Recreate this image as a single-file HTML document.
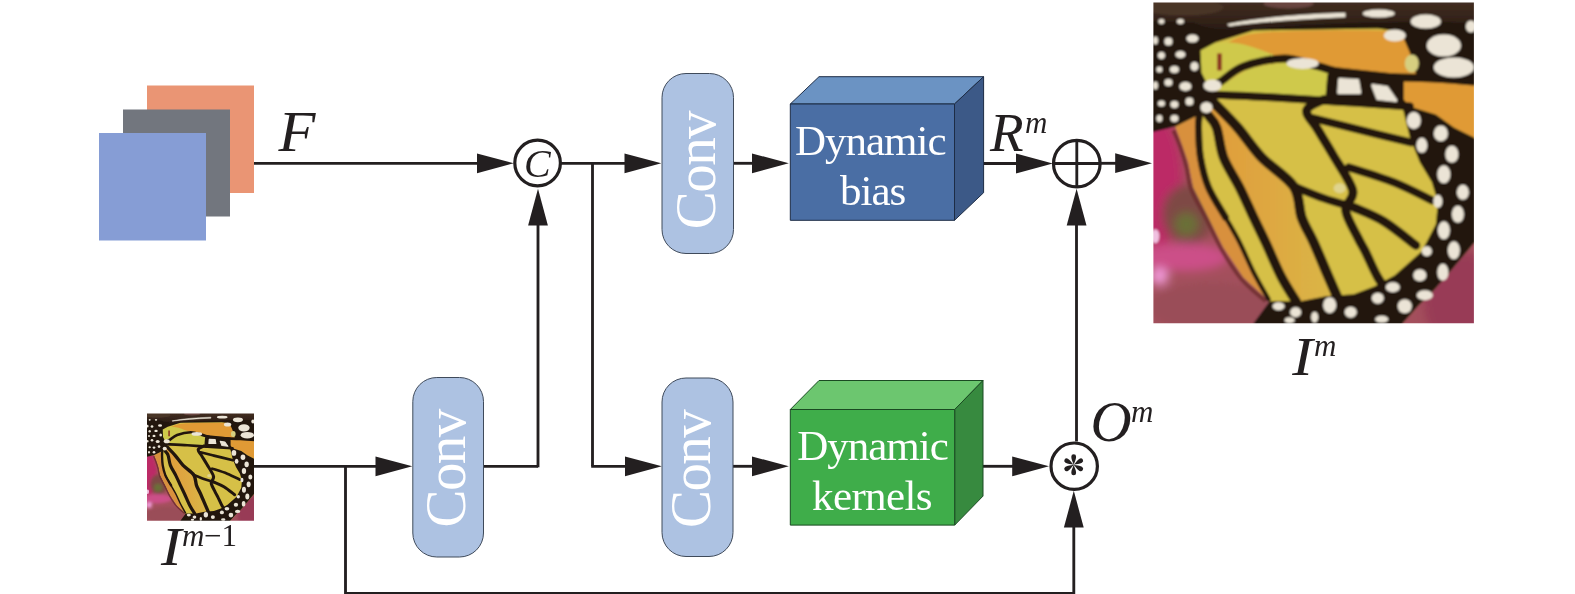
<!DOCTYPE html>
<html><head><meta charset="utf-8">
<style>
html,body{margin:0;padding:0;background:#fff;}
body{width:1575px;height:594px;overflow:hidden;position:relative;}
svg{position:absolute;left:0;top:0;will-change:transform;}
.t{font-family:"Liberation Serif",serif;}
</style></head><body>
<svg width="1575" height="594" viewBox="0 0 1575 594">
<defs>
<filter id="bl" filterUnits="userSpaceOnUse" x="-10" y="-10" width="340" height="341"><feGaussianBlur stdDeviation="1.2"/></filter>
<filter id="bl2" x="0" y="0" width="1" height="1"><feGaussianBlur stdDeviation="1.5"/></filter>
<symbol id="bf" viewBox="0 0 320 321" preserveAspectRatio="none"><g filter="url(#bl)">
<defs><linearGradient id="gbc" x1="0" y1="0" x2="1" y2="0"><stop offset="0" stop-color="#e09c3a"/><stop offset="0.5" stop-color="#dea842"/><stop offset="1" stop-color="#d9b846"/></linearGradient><linearGradient id="gtop" x1="0" y1="0" x2="0" y2="1"><stop offset="0" stop-color="#4a3426"/><stop offset="1" stop-color="#2a1c14"/></linearGradient></defs>
<defs><filter id="bbl" filterUnits="userSpaceOnUse" x="-20" y="-20" width="360" height="361"><feGaussianBlur stdDeviation="5"/></filter></defs>
<rect x="-10" y="-10" width="340" height="341" fill="#a4505c"/>
<g filter="url(#bbl)">
<ellipse cx="5" cy="180" rx="24" ry="65" fill="#bc2a66"/>
<ellipse cx="35" cy="212" rx="26" ry="30" fill="#7e4a44"/>
<ellipse cx="33" cy="222" rx="12" ry="12" fill="#6a7038"/>
<ellipse cx="30" cy="255" rx="45" ry="14" fill="#cc5088"/>
<ellipse cx="6" cy="274" rx="9" ry="9" fill="#f09ad8"/>
<ellipse cx="60" cy="305" rx="65" ry="25" fill="#9a4e58"/>
<ellipse cx="310" cy="300" rx="40" ry="50" fill="#983a56"/>
</g>
<ellipse cx="2" cy="234" rx="4" ry="7" fill="#f0c0e0"/>
<polygon points="-10,-10 330,-10 330,241 320,241 300,265 281,287 265,303 249,321 124,321 114,297 90,275 70,245 55,215 40,185 35,160 28,140 22,124 -10,130" fill="#d6c046"/>
<polygon points="22,124 28,140 35,160 40,185 55,215 70,245 90,275 114,297 115,297 100,270 86,240 72,215 55,185 47,155 45,125 46,112" fill="#d8903e"/>
<path d="M20,128 C21.2,130.8 24.8,138.8 27,145 C29.2,151.2 31.2,157.8 33,165 C34.8,172.2 34.7,179.3 38,188 C41.3,196.7 48.0,207.2 53,217 C58.0,226.8 62.2,237.0 68,247 C73.8,257.0 80.7,268.3 88,277 C95.3,285.7 108.0,295.3 112,299" stroke="#6a2a2a" stroke-width="4" fill="none" opacity="0.8"/>
<polygon points="54,112 63,125 70,155 86,185 100,215 112,240 128,275 143,300 185,298 175,275 160,240 148,215 140,184 108,155 84,125 60,100" fill="url(#gbc)"/>
<path d="M75,40 C79.2,38.0 85.2,32.0 110,30 C134.8,28.0 200.7,27.3 224,28 C247.3,28.7 243.7,30.0 250,34 C256.3,38.0 259.7,45.3 262,52 C264.3,58.7 274.0,70.7 264,74 C254.0,77.3 219.2,73.8 202,72 C184.8,70.2 174.5,65.7 161,63 C147.5,60.3 131.2,58.8 121,56 C110.8,53.2 106.0,48.3 100,46 C94.0,43.7 89.2,43.0 85,42 C80.8,41.0 70.8,42.0 75,40Z" fill="#e09a34"/>
<path d="M47,50 C49.3,44.8 54.8,42.3 62,41 C69.2,39.7 79.7,39.8 90,42 C100.3,44.2 117.2,51.3 124,54 C130.8,56.7 136.7,56.3 131,58 C125.3,59.7 100.8,60.3 90,64 C79.2,67.7 71.8,76.7 66,80 C60.2,83.3 58.0,85.3 55,84 C52.0,82.7 49.3,77.7 48,72 C46.7,66.3 44.7,55.2 47,50Z" fill="#cfc94c"/>
<polygon points="70,82 97,66 132,60 183,72 176,98 120,94 62,92" fill="#cfc94c"/>
<polygon points="236,74 330,76 330,140 300,125 282,112 256,104 244,92" fill="#e09a34"/>
<polygon points="-10,-10 330,-10 330,30 252,30 224,26 100,28 62,40 47,48 48,70 55,84 62,100 46,112 22,124 -10,132" fill="#211710"/>
<path d="M-10,-10 L330,-10 L330,20 Q200,18 100,26 Q60,30 40,20 L-10,18Z" fill="url(#gtop)"/>
<ellipse cx="135" cy="1" rx="25" ry="5" fill="#7a5050" opacity="0.7"/>
<ellipse cx="30" cy="5" rx="40" ry="8" fill="#4e3828" opacity="0.8"/>
<path d="M75,22 Q120,13 191,11 L191,14 Q120,17 76,23Z" fill="#ebe4d6" stroke="#ebe4d6" stroke-width="1.5"/>
<ellipse cx="225" cy="11" rx="16" ry="4" fill="#ebe4d6"/>
<polygon points="246,27 330,24 330,80 264,78 256,50" fill="#211710"/>
<ellipse cx="258" cy="61" rx="7" ry="9" fill="#d6cf80"/>
<polygon points="176,64 250,72 250,104 176,100" fill="#211710"/>
<polygon points="244,90 250,110 256,135 266,160 278,180 284,200 282,222 268,249 241,273 221,284 200,292 172,294 147,299 116,299 100,321 100,330 249,330 249,321 265,303 281,287 300,265 320,241 330,241 330,140 300,125 282,112 256,104" fill="#211710"/>
<path d="M46,112 C45.8,114.2 44.8,117.8 45,125 C45.2,132.2 45.3,145.0 47,155 C48.7,165.0 50.8,175.0 55,185 C59.2,195.0 69.2,210.0 72,215" stroke="#211710" stroke-width="7" fill="none" stroke-linecap="round" stroke-linejoin="round"/>
<path d="M55,185 C57.8,190.0 66.8,205.8 72,215 C77.2,224.2 81.3,230.8 86,240 C90.7,249.2 95.2,260.5 100,270 C104.8,279.5 112.5,292.5 115,297" stroke="#211710" stroke-width="4.5" fill="none" stroke-linecap="round" stroke-linejoin="round"/>
<path d="M54,112 C55.5,114.2 60.3,117.8 63,125 C65.7,132.2 66.2,145.0 70,155 C73.8,165.0 81.0,175.0 86,185 C91.0,195.0 95.7,205.8 100,215 C104.3,224.2 107.3,230.0 112,240 C116.7,250.0 122.8,265.0 128,275 C133.2,285.0 140.5,295.8 143,300" stroke="#211710" stroke-width="9.5" fill="none" stroke-linecap="round" stroke-linejoin="round"/>
<path d="M60,100 C64.0,104.2 76.0,115.8 84,125 C92.0,134.2 98.7,145.2 108,155 C117.3,164.8 133.3,174.0 140,184 C146.7,194.0 144.7,205.7 148,215 C151.3,224.3 155.5,230.0 160,240 C164.5,250.0 170.8,265.3 175,275 C179.2,284.7 183.3,294.2 185,298" stroke="#211710" stroke-width="10" fill="none" stroke-linecap="round" stroke-linejoin="round"/>
<path d="M50,88 C52.7,86.7 59.3,84.0 66,80 C72.7,76.0 79.2,68.0 90,64 C100.8,60.0 118.5,56.0 131,56 C143.5,56.0 153.2,61.2 165,64 C176.8,66.8 182.8,71.0 202,73 C221.2,75.0 258.7,74.8 280,76 C301.3,77.2 321.7,79.3 330,80" stroke="#211710" stroke-width="8" fill="none" stroke-linecap="round" stroke-linejoin="round"/>
<path d="M56,92 C66.8,92.5 100.2,93.8 121,95 C141.8,96.2 160.8,97.7 181,99 C201.2,100.3 229.5,102.2 242,103 C254.5,103.8 253.7,103.8 256,104" stroke="#211710" stroke-width="8" fill="none" stroke-linecap="round" stroke-linejoin="round"/>
<path d="M170,97 C167.2,98.8 154.0,103.0 153,108 C152.0,113.0 159.7,119.7 164,127 C168.3,134.3 173.2,141.8 179,152 C184.8,162.2 196.8,178.7 199,188 C201.2,197.3 191.2,200.2 192,208 C192.8,215.8 200.7,228.0 204,235 C207.3,242.0 208.7,243.3 212,250 C215.3,256.7 220.0,268.0 224,275 C228.0,282.0 234.0,289.2 236,292" stroke="#211710" stroke-width="9" fill="none" stroke-linecap="round" stroke-linejoin="round"/>
<path d="M140,184 C145.0,186.0 160.0,192.5 170,196 C180.0,199.5 195.0,203.5 200,205" stroke="#211710" stroke-width="8" fill="none" stroke-linecap="round" stroke-linejoin="round"/>
<path d="M160,116 C166.7,117.7 183.8,122.0 200,126 C216.2,130.0 247.5,137.7 257,140" stroke="#211710" stroke-width="8" fill="none" stroke-linecap="round" stroke-linejoin="round"/>
<path d="M195,165 C202.5,167.5 226.2,174.5 240,180 C253.8,185.5 271.7,195.0 278,198" stroke="#211710" stroke-width="8" fill="none" stroke-linecap="round" stroke-linejoin="round"/>
<path d="M200,205 C205.0,207.3 219.7,212.7 230,219 C240.3,225.3 256.7,239.0 262,243" stroke="#211710" stroke-width="9" fill="none" stroke-linecap="round" stroke-linejoin="round"/>
<path d="M178,74 C177.7,78.0 176.3,94.0 176,98" stroke="#211710" stroke-width="9" fill="none" stroke-linecap="round" stroke-linejoin="round"/>
<path d="M210,74 C210.5,78.3 212.5,95.7 213,100" stroke="#211710" stroke-width="7" fill="none" stroke-linecap="round" stroke-linejoin="round"/>
<path d="M66,51 L66,68" stroke="#8a3020" stroke-width="4.5"/>
<ellipse cx="260" cy="118" rx="7" ry="8.5" fill="#ebe4d6"/>
<ellipse cx="287" cy="131" rx="7" ry="8" fill="#ebe4d6"/>
<ellipse cx="268" cy="143" rx="5.5" ry="7.5" fill="#ebe4d6"/>
<ellipse cx="298" cy="152" rx="6.5" ry="8.5" fill="#ebe4d6"/>
<ellipse cx="290" cy="172" rx="6.5" ry="9" fill="#ebe4d6"/>
<ellipse cx="309" cy="190" rx="6" ry="7.5" fill="#ebe4d6"/>
<ellipse cx="284" cy="199" rx="4.5" ry="6.5" fill="#ebe4d6"/>
<ellipse cx="304" cy="212" rx="6" ry="8.5" fill="#ebe4d6"/>
<ellipse cx="290" cy="228" rx="6" ry="9" fill="#ebe4d6"/>
<ellipse cx="300" cy="248" rx="6" ry="9" fill="#ebe4d6"/>
<ellipse cx="273" cy="249" rx="5" ry="5" fill="#ebe4d6"/>
<ellipse cx="289" cy="270" rx="5.5" ry="8.5" fill="#ebe4d6"/>
<ellipse cx="266" cy="273" rx="6.5" ry="6" fill="#ebe4d6"/>
<ellipse cx="239" cy="285" rx="7" ry="5" fill="#ebe4d6"/>
<ellipse cx="271" cy="293" rx="8" ry="5" fill="#ebe4d6"/>
<ellipse cx="224" cy="296" rx="6" ry="5.5" fill="#ebe4d6"/>
<ellipse cx="251" cy="304" rx="7" ry="7" fill="#ebe4d6"/>
<ellipse cx="197" cy="310" rx="6" ry="5.5" fill="#ebe4d6"/>
<ellipse cx="176" cy="303" rx="6.5" ry="8" fill="#ebe4d6"/>
<ellipse cx="228" cy="317" rx="6.5" ry="3.5" fill="#ebe4d6"/>
<ellipse cx="161" cy="315" rx="3.5" ry="5.5" fill="#ebe4d6"/>
<ellipse cx="125" cy="304" rx="6" ry="4" fill="#ebe4d6"/>
<ellipse cx="142" cy="310" rx="5.5" ry="5" fill="#ebe4d6"/>
<ellipse cx="136" cy="318" rx="5" ry="3" fill="#ebe4d6"/>
<ellipse cx="290" cy="43" rx="17" ry="11" fill="#ebe4d6"/>
<ellipse cx="300" cy="65" rx="20" ry="10" fill="#ebe4d6"/>
<ellipse cx="241" cy="33" rx="11" ry="6" fill="#ebe4d6"/>
<ellipse cx="272" cy="19" rx="15" ry="7" fill="#ebe4d6"/>
<ellipse cx="317" cy="24" rx="5" ry="6" fill="#ebe4d6"/>
<ellipse cx="149" cy="61" rx="16" ry="5.5" fill="#ebe4d6"/>
<ellipse cx="59" cy="83" rx="9" ry="6" fill="#ebe4d6"/>
<ellipse cx="53" cy="105" rx="6" ry="5.5" fill="#ebe4d6"/>
<ellipse cx="8" cy="19" rx="3" ry="2.5" fill="#ebe4d6"/>
<ellipse cx="27" cy="19" rx="3.5" ry="2.5" fill="#ebe4d6"/>
<ellipse cx="2" cy="38" rx="2.5" ry="4" fill="#ebe4d6"/>
<ellipse cx="15" cy="39" rx="4" ry="4" fill="#ebe4d6"/>
<ellipse cx="39" cy="36" rx="6" ry="4" fill="#ebe4d6"/>
<ellipse cx="27" cy="52" rx="5" ry="3.5" fill="#ebe4d6"/>
<ellipse cx="8" cy="53" rx="3.5" ry="3.5" fill="#ebe4d6"/>
<ellipse cx="41" cy="64" rx="4" ry="4.5" fill="#ebe4d6"/>
<ellipse cx="21" cy="67" rx="4.5" ry="3.5" fill="#ebe4d6"/>
<ellipse cx="6" cy="67" rx="3" ry="3" fill="#ebe4d6"/>
<ellipse cx="2" cy="83" rx="2.5" ry="4" fill="#ebe4d6"/>
<ellipse cx="15" cy="80" rx="4" ry="3.5" fill="#ebe4d6"/>
<ellipse cx="32" cy="84" rx="6" ry="4.5" fill="#ebe4d6"/>
<ellipse cx="8" cy="101" rx="3.5" ry="3" fill="#ebe4d6"/>
<ellipse cx="21" cy="102" rx="4" ry="3.5" fill="#ebe4d6"/>
<ellipse cx="36" cy="99" rx="4" ry="4" fill="#ebe4d6"/>
<ellipse cx="21" cy="116" rx="4" ry="3.5" fill="#ebe4d6"/>
<ellipse cx="6" cy="116" rx="3" ry="3.5" fill="#ebe4d6"/>
<path d="M186,77 L204,78 L206,90 L185,90Z" fill="#ebe4d6" stroke="#ebe4d6" stroke-width="3" stroke-linejoin="round"/>
<path d="M219,83 L233,85 L242,98 L224,96Z" fill="#ebe4d6" stroke="#ebe4d6" stroke-width="3" stroke-linejoin="round"/>
<ellipse cx="186" cy="186" rx="6" ry="5" fill="#e2d8a0" opacity="0.8"/>
</g></symbol>
<path id="ar" d="M0,-9.9 L36.8,0 L0,9.9 Z" fill="#231f20"/>
</defs>
<!-- feature squares -->
<rect x="147" y="85.5" width="107" height="107.5" fill="#ea9574"/>
<rect x="123" y="109.5" width="107" height="107" fill="#72767e"/>
<rect x="99" y="133" width="107" height="107.5" fill="#869dd5"/>
<g stroke="#231f20" stroke-width="2.85" fill="none">
<!-- F line -->
<line x1="254" y1="163.3" x2="480" y2="163.3"/>
<!-- C circle -->
<circle cx="537.6" cy="163" r="22.8" stroke-width="3.2"/>
<line x1="561" y1="163.3" x2="626" y2="163.3"/>
<line x1="592.5" y1="163.3" x2="592.5" y2="466.3"/>
<line x1="591.2" y1="466.3" x2="626" y2="466.3"/>
<line x1="483.5" y1="466.3" x2="538" y2="466.3"/>
<line x1="538" y1="467.3" x2="538" y2="222"/>
<line x1="733.5" y1="163.3" x2="755" y2="163.3"/>
<line x1="733" y1="466.3" x2="755" y2="466.3"/>
<line x1="983.6" y1="163.5" x2="1018" y2="163.5"/>
<line x1="983" y1="466.3" x2="1015" y2="466.3"/>
<circle cx="1076.8" cy="163.65" r="23.3" stroke-width="3.2"/>
<line x1="1053.8" y1="163.5" x2="1099.8" y2="163.5"/>
<line x1="1076.8" y1="140.5" x2="1076.8" y2="186.8"/>
<line x1="1100" y1="163.3" x2="1118" y2="163.3"/>
<line x1="1076.5" y1="441.5" x2="1076.5" y2="222"/>
<circle cx="1074.2" cy="466.2" r="23.2" stroke-width="3.2"/>
<line x1="254" y1="466.3" x2="378" y2="466.3"/>
<polyline points="345.5,466.3 345.5,593.3 1073.8,593.3 1073.8,525"/>
</g>
<!-- arrowheads -->
<use href="#ar" transform="translate(477,163.3)"/>
<use href="#ar" transform="translate(624.5,163.3)"/>
<use href="#ar" transform="translate(752,163.3)"/>
<use href="#ar" transform="translate(1016,163.5)"/>
<use href="#ar" transform="translate(1115.2,163.2)"/>
<use href="#ar" transform="translate(538,225.5) rotate(-90)"/>
<use href="#ar" transform="translate(1076.6,225.5) rotate(-90)"/>
<use href="#ar" transform="translate(375.5,466.3)"/>
<use href="#ar" transform="translate(625,466.3)"/>
<use href="#ar" transform="translate(752,466.3)"/>
<use href="#ar" transform="translate(1012.2,466.3)"/>
<use href="#ar" transform="translate(1073.8,527.6) rotate(-90)"/>
<!-- asterisk -->
<g transform="translate(1073.7,464.8)" fill="#231f20"><path d="M0,0 C-0.9,-3 -2.4,-5.4 -2.4,-8.1 A2.4,2.4 0 0 1 2.4,-8.1 C2.4,-5.4 0.9,-3 0,0Z" transform="rotate(0)"/><path d="M0,0 C-0.9,-3 -2.4,-5.4 -2.4,-8.1 A2.4,2.4 0 0 1 2.4,-8.1 C2.4,-5.4 0.9,-3 0,0Z" transform="rotate(60)"/><path d="M0,0 C-0.9,-3 -2.4,-5.4 -2.4,-8.1 A2.4,2.4 0 0 1 2.4,-8.1 C2.4,-5.4 0.9,-3 0,0Z" transform="rotate(120)"/><path d="M0,0 C-0.9,-3 -2.4,-5.4 -2.4,-8.1 A2.4,2.4 0 0 1 2.4,-8.1 C2.4,-5.4 0.9,-3 0,0Z" transform="rotate(180)"/><path d="M0,0 C-0.9,-3 -2.4,-5.4 -2.4,-8.1 A2.4,2.4 0 0 1 2.4,-8.1 C2.4,-5.4 0.9,-3 0,0Z" transform="rotate(240)"/><path d="M0,0 C-0.9,-3 -2.4,-5.4 -2.4,-8.1 A2.4,2.4 0 0 1 2.4,-8.1 C2.4,-5.4 0.9,-3 0,0Z" transform="rotate(300)"/></g>
<!-- conv pills -->
<g fill="#adc2e2" stroke="#3f4a5a" stroke-width="1">
<rect x="662" y="73.5" width="71.5" height="180" rx="24" ry="24"/>
<rect x="412.8" y="377.5" width="70.7" height="179.5" rx="24" ry="24"/>
<rect x="662" y="378" width="71" height="178.5" rx="24" ry="24"/>
</g>
<g class="t" fill="#fff" font-size="57" text-anchor="middle" letter-spacing="-1.6">
<text transform="translate(714.5,170.6) rotate(-90)">Conv</text>
<text transform="translate(464.5,468.9) rotate(-90)">Conv</text>
<text transform="translate(710,469.4) rotate(-90)">Conv</text>
</g>
<!-- blue cube -->
<g stroke="#1d2c45" stroke-width="1" stroke-linejoin="round">
<polygon points="790.3,104 819,76.7 983.6,76.7 954.5,104" fill="#6b93c3"/>
<polygon points="954.5,104 983.6,76.7 983.6,192.7 954.5,220.3" fill="#3c5987"/>
<rect x="790.3" y="104" width="164.2" height="116.3" fill="#4a6ea4"/>
</g>
<!-- green cube -->
<g stroke="#1a4a22" stroke-width="1" stroke-linejoin="round">
<polygon points="790.3,409.5 819,380.5 983,380.5 954.7,409.5" fill="#6cc66f"/>
<polygon points="954.7,409.5 983,380.5 983,496.1 954.7,525.1" fill="#378a3f"/>
<rect x="790.3" y="409.5" width="164.4" height="115.6" fill="#3fad4a"/>
</g>
<g class="t" fill="#fff" font-size="43" text-anchor="middle" letter-spacing="-1">
<text x="870.3" y="155.4">Dynamic</text>
<text x="872.6" y="205">bias</text>
<text x="872.5" y="460.1">Dynamic</text>
<text x="872" y="510" letter-spacing="-0.6">kernels</text>
</g>
<!-- labels -->
<g class="t" fill="#231f20" font-style="italic">
<text x="0" y="0" font-size="56.5" transform="translate(278.5,150.8) scale(1.07,1)">F</text>
<text x="524" y="176.5" font-size="40">C</text>
<text x="990" y="150.8" font-size="55">R</text>
<text x="1025" y="132.8" font-size="31">m</text>
<text x="1090.5" y="440.5" font-size="57">O</text>
<text x="1131" y="421.9" font-size="31">m</text>
<text x="0" y="0" font-size="55" transform="translate(1292.2,374.7) scale(1.12,1)">I</text>
<text x="1314" y="355.8" font-size="31">m</text>
<text x="0" y="0" font-size="55" transform="translate(161,564.7) scale(1.12,1)">I</text>
<text x="182" y="545.8" font-size="31">m</text>
<text x="204" y="545.8" font-size="31" font-style="normal">&#8722;1</text>
</g>
<!-- output image placeholder -->
<use href="#bf" x="1153.4" y="2.5" width="320.5" height="320.7"/>
<use href="#bf" x="147" y="413.5" width="107" height="107.3"/>
</svg>
</body></html>
